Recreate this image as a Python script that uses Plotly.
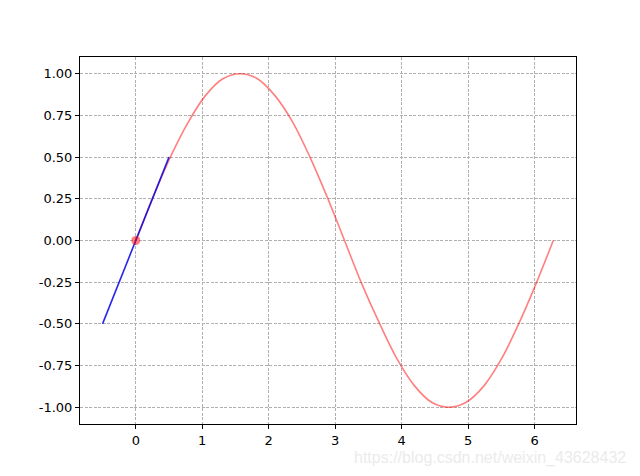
import plotly.graph_objects as go

# sine curve
sine_x = [0, 0.26, 0.52, 0.79, 1.05, 1.31, 1.57, 1.83, 2.09, 2.36, 2.62, 2.88, 3.14,
          3.40, 3.67, 3.93, 4.19, 4.45, 4.71, 4.97, 5.24, 5.50, 5.76, 6.02, 6.28]
sine_y = [0, 0.26, 0.5, 0.71, 0.87, 0.97, 1.0, 0.97, 0.87, 0.71, 0.5, 0.26, 0,
          -0.26, -0.5, -0.71, -0.87, -0.97, -1.0, -0.97, -0.87, -0.71, -0.5, -0.26, 0]

# tangent line at the origin
tangent_x = [-0.5, 0.5]
tangent_y = [-0.5, 0.5]

point_x = [0]
point_y = [0]

x_ticks = [0, 1, 2, 3, 4, 5, 6]
y_ticks = [-1.0, -0.75, -0.5, -0.25, 0.0, 0.25, 0.5, 0.75, 1.0]

fig = go.Figure()

fig.add_trace(go.Scatter(
    x=sine_x, y=sine_y, mode='lines',
    line=dict(color='rgba(255,0,0,0.5)', width=1.6, shape='spline', smoothing=1.0)
))
fig.add_trace(go.Scatter(
    x=tangent_x, y=tangent_y, mode='lines',
    line=dict(color='rgba(0,0,230,0.85)', width=1.6)
))
fig.add_trace(go.Scatter(
    x=point_x, y=point_y, mode='markers',
    marker=dict(color='rgba(255,0,0,0.5)', size=9)
))

axis_common = dict(
    showline=True, linecolor='black', linewidth=1, mirror=True,
    ticks='outside', ticklen=4, tickcolor='black',
    showgrid=True, gridcolor='#b0b0b0', griddash='3px,1.5px', gridwidth=0.8,
    zeroline=False, tickfont=dict(family='DejaVu Sans', size=13, color='black'),
)

fig.update_xaxes(range=[-0.839, 6.622], tickvals=x_ticks, **axis_common)
fig.update_yaxes(range=[-1.1, 1.1], tickvals=y_ticks,
                 ticktext=[f"{v:.2f}" for v in y_ticks], **axis_common)

# faint watermark in the bottom right corner
fig.add_annotation(
    text="https://blog.csdn.net/weixin_43628432",
    xref='paper', yref='paper', x=1.105, y=-0.062, xanchor='right', yanchor='top',
    showarrow=False, font=dict(family='Liberation Sans', size=16, color='#ebebeb')
)

fig.update_layout(
    width=640, height=476,
    margin=dict(l=80, r=64, t=57, b=52),
    paper_bgcolor='white', plot_bgcolor='white',
    showlegend=False,
)

fig.write_html("out.html", config={'displayModeBar': False},
               post_script="document.body.style.margin='0';")
